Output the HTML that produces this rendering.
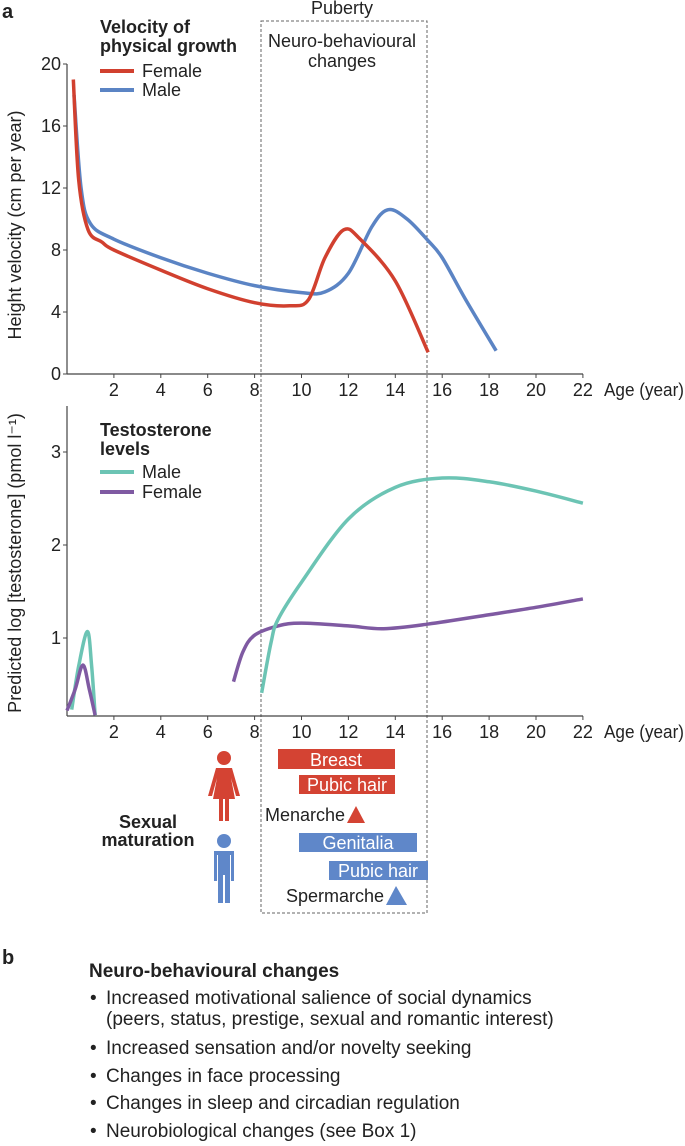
<!DOCTYPE html>
<html><head><meta charset="utf-8"><style>
body{margin:0;background:#fff}
svg text{font-family:"Liberation Sans",sans-serif;fill:#222}
</style></head><body>
<svg id="fig" width="685" height="1141" viewBox="0 0 685 1141" xmlns="http://www.w3.org/2000/svg">
<text x="2" y="18" font-size="20" font-weight="bold">a</text>
<text x="342" y="14" font-size="18" text-anchor="middle">Puberty</text>
<rect x="261" y="21" width="166" height="892" fill="none" stroke="#666" stroke-dasharray="3,2" stroke-width="1"/>
<text x="342" y="47" font-size="18" text-anchor="middle">Neuro-behavioural</text>
<text x="342" y="67" font-size="18" text-anchor="middle">changes</text>
<g id="topChart"></g>
<g id="botChart"></g>
<g>
<text x="148" y="828" font-size="18" font-weight="bold" text-anchor="middle">Sexual</text>
<text x="148" y="846" font-size="18" font-weight="bold" text-anchor="middle">maturation</text>
<g fill="#d44333">
<circle cx="224" cy="758" r="7"/><path d="M216 768 h16 l8 28 h-4 l-5-18 l4 21 h-6 v22 h-4 v-22 h-2 v22 h-4 v-22 h-6 l4-21 l-5 18 h-4z"/></g>
<g fill="#5f87c9">
<circle cx="224" cy="841" r="7"/><path d="M214 851 h20 v30 h-3 v-26 h-1 v48 h-5 v-28 h-2 v28 h-5 v-48 h-1 v26 h-3z"/></g>
<rect x="278" y="749" width="117" height="20" fill="#d44333"/>
<text x="336" y="766" font-size="18" style="fill:#fff" text-anchor="middle">Breast</text>
<rect x="299" y="775" width="96" height="19" fill="#d44333"/>
<text x="347" y="791" font-size="18" style="fill:#fff" text-anchor="middle">Pubic hair</text>
<text x="345" y="821" font-size="18" text-anchor="end">Menarche</text>
<polygon points="347,823 356,806 365,823" fill="#d44333"/>
<rect x="299" y="833" width="118" height="19" fill="#5f87c9"/>
<text x="358" y="849" font-size="18" style="fill:#fff" text-anchor="middle">Genitalia</text>
<rect x="329" y="861" width="99" height="19" fill="#5f87c9"/>
<text x="378" y="877" font-size="18" style="fill:#fff" text-anchor="middle">Pubic hair</text>
<text x="384" y="902" font-size="18" text-anchor="end">Spermarche</text>
<polygon points="386,905 396,886 407,905" fill="#5f87c9"/>
</g>
<g>
<text x="2" y="964" font-size="20" font-weight="bold">b</text>
<text x="89" y="977" font-size="19" font-weight="bold">Neuro-behavioural changes</text>
<g font-size="19">
<text x="90" y="1004">•</text><text x="106" y="1004">Increased motivational salience of social dynamics</text>
<text x="106" y="1025">(peers, status, prestige, sexual and romantic interest)</text>
<text x="90" y="1054">•</text><text x="106" y="1054">Increased sensation and/or novelty seeking</text>
<text x="90" y="1082">•</text><text x="106" y="1082">Changes in face processing</text>
<text x="90" y="1109">•</text><text x="106" y="1109">Changes in sleep and circadian regulation</text>
<text x="90" y="1137">•</text><text x="106" y="1137">Neurobiological changes (see Box 1)</text>
</g></g>
</svg>
<script>
const ageTicks=[2,4,6,8,10,12,14,16,18,20,22];
const velTicks=[0,4,8,12,16,20];
const femVelAge=[0.27,0.5,0.9,1.5,2,4,6,8,9.5,10.3,11,11.8,12.5,14,15.4];
const femVel=[19,12.5,9.3,8.5,8.0,6.7,5.5,4.6,4.4,4.8,7.5,9.3,8.7,6.0,1.4];
const maleVelAge=[0.3,0.6,1,2,4,6,8,10,11,12,13,13.7,14.5,15.4,16,17,18.3];
const maleVel=[18,12,9.7,8.7,7.5,6.5,5.7,5.25,5.3,6.5,9.5,10.6,10.0,8.6,7.5,4.8,1.5];
const testTicks=[1,2,3];
const mEarlyAge=[0.2,0.5,0.87,1.05,1.2];const mEarly=[0.23,0.7,1.07,0.7,0.17];
const fEarlyAge=[0,0.35,0.68,0.95,1.2];const fEarly=[0.22,0.45,0.71,0.45,0.17];
const mTestAge=[8.3,8.7,9,10,12,14,16,18,20,22];
const mTest=[0.41,0.95,1.2,1.6,2.28,2.62,2.72,2.68,2.58,2.45];
const fTestAge=[7.1,7.5,8,9,10,12,13.5,15.4,18,20,22];
const fTest=[0.53,0.85,1.03,1.13,1.16,1.13,1.1,1.15,1.25,1.33,1.42];
const NS="http://www.w3.org/2000/svg";
const X=a=>67+a*23.45, YT=v=>374-v*15.5, YB=v=>731-v*93;
function mk(p,t,at,txt){const e=document.createElementNS(NS,t);for(const k in at)e.setAttribute(k,at[k]);if(txt!=null)e.textContent=txt;p.appendChild(e);return e;}
function path(xs,ys,fx,fy){const P=xs.map((a,i)=>[fx(a),fy(ys[i])]);let d="M"+P[0][0]+","+P[0][1];
for(let i=0;i<P.length-1;i++){const p0=P[i-1]||P[i],p1=P[i],p2=P[i+1],p3=P[i+2]||p2;
d+=" C"+(p1[0]+(p2[0]-p0[0])/6)+","+(p1[1]+(p2[1]-p0[1])/6)+" "+(p2[0]-(p3[0]-p1[0])/6)+","+(p2[1]-(p3[1]-p1[1])/6)+" "+p2[0]+","+p2[1];}return d;}
function axes(g,yb,ytop,ticks,fy){mk(g,"line",{x1:67,y1:ytop,x2:67,y2:yb,stroke:"#444","stroke-width":1.2});
mk(g,"line",{x1:67,y1:yb,x2:583,y2:yb,stroke:"#444","stroke-width":1.2});
ageTicks.forEach(a=>{mk(g,"line",{x1:X(a),y1:yb,x2:X(a),y2:yb+4,stroke:"#444"});
const t=mk(g,"text",{x:X(a),y:yb+22,"font-size":18,"text-anchor":"middle"},a);

});
const al=mk(g,"text",{x:604,y:yb+22,"font-size":18,textLength:80,lengthAdjust:"spacingAndGlyphs"},"Age (year)");


ticks.forEach(v=>{mk(g,"line",{x1:63,y1:fy(v),x2:67,y2:fy(v),stroke:"#444"});
const t=mk(g,"text",{x:61,y:fy(v)+6,"font-size":18,"text-anchor":"end"},v);

});}
function line(g,xs,ys,fy,c,name){const p=mk(g,"path",{d:path(xs,ys,X,fy),fill:"none",stroke:c,"stroke-width":3.5});

}
const gTop=document.getElementById("topChart"),gBot=document.getElementById("botChart");
axes(gTop,374,64,velTicks,YT);
axes(gBot,716,406,testTicks,YB);
const yl1=mk(gTop,"text",{x:0,y:0,"font-size":18,"text-anchor":"middle",transform:"translate(21,225) rotate(-90)"},"Height velocity (cm per year)");


const yl2=mk(gBot,"text",{x:0,y:0,"font-size":18,"text-anchor":"middle",transform:"translate(21,563) rotate(-90)"},"Predicted log [testosterone] (pmol l\u207B\u00B9)");


line(gTop,maleVelAge,maleVel,YT,"#5b84c4","male-velocity-line");
line(gTop,femVelAge,femVel,YT,"#d1402f","female-velocity-line");
line(gBot,mEarlyAge,mEarly,YB,"#6cc4b4","male-testosterone-infant");
line(gBot,fEarlyAge,fEarly,YB,"#7f5aa2","female-testosterone-infant");
line(gBot,fTestAge,fTest,YB,"#7f5aa2","female-testosterone-line");
line(gBot,mTestAge,mTest,YB,"#6cc4b4","male-testosterone-line");
function leg(g,y,c,txt,name){const l=mk(g,"line",{x1:100,y1:y,x2:134,y2:y,stroke:c,"stroke-width":4});


mk(g,"text",{x:142,y:y+6,"font-size":18},txt);}
mk(gTop,"text",{x:100,y:33,"font-size":18,"font-weight":"bold"},"Velocity of");
mk(gTop,"text",{x:100,y:52,"font-size":18,"font-weight":"bold"},"physical growth");
leg(gTop,71,"#d1402f","Female","legend-female");
leg(gTop,90,"#5b84c4","Male","legend-male");
mk(gBot,"text",{x:100,y:436,"font-size":18,"font-weight":"bold"},"Testosterone");
mk(gBot,"text",{x:100,y:455,"font-size":18,"font-weight":"bold"},"levels");
leg(gBot,472,"#6cc4b4","Male","legend-male");
leg(gBot,492,"#7f5aa2","Female","legend-female");
</script>
</body></html>
